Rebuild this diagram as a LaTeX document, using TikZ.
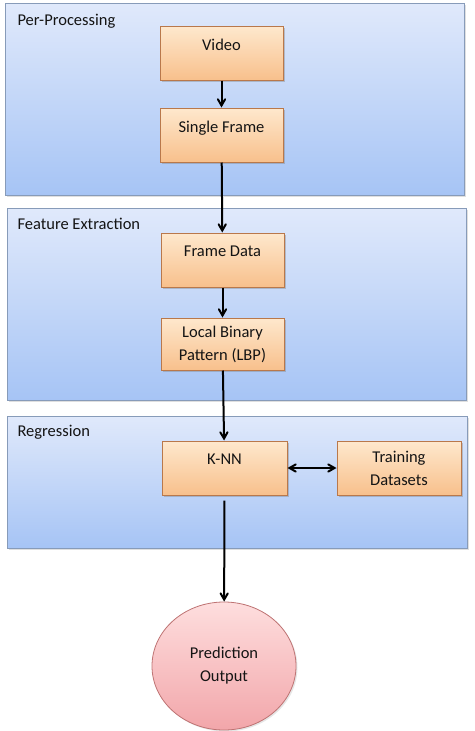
\documentclass[tikz,border=0pt]{standalone}
\usepackage{fontspec}
\setmainfont{Carlito}
\usetikzlibrary{arrows,shadows,shapes.geometric}
\definecolor{panelTop}{RGB}{224,233,251}
\definecolor{panelBot}{RGB}{166,196,245}
\definecolor{panelLine}{RGB}{135,155,185}
\definecolor{boxTop}{RGB}{254,232,205}
\definecolor{boxBot}{RGB}{248,192,140}
\definecolor{boxLine}{RGB}{185,120,75}
\definecolor{outTop}{RGB}{254,222,222}
\definecolor{outBot}{RGB}{242,166,170}
\definecolor{outLine}{RGB}{190,115,115}

\begin{document}
\begin{tikzpicture}[x=1pt,y=-1pt,
  every node/.style={font=\fontsize{16.5}{23}\selectfont,text=black!92},
  panel/.style={draw=panelLine,line width=0.8pt,top color=panelTop,bottom color=panelBot,
    drop shadow={opacity=0.25,shadow xshift=1.5pt,shadow yshift=-1.5pt}},
  stage/.style={draw=boxLine,line width=1pt,top color=boxTop,bottom color=boxBot,
    minimum width=123pt,minimum height=54pt,align=center,inner sep=1pt,
    drop shadow={opacity=0.4,shadow xshift=1.5pt,shadow yshift=-1.5pt}},
  oneline/.style={text depth=17pt},
  result/.style={ellipse,draw=outLine,line width=0.8pt,top color=outTop,bottom color=outBot,
    minimum width=144pt,minimum height=128pt,align=center,
    drop shadow={opacity=0.2,shadow xshift=1.5pt,shadow yshift=-1.5pt}},
  flow/.style={-angle 60,line width=2pt}]

\useasboundingbox (0,0) rectangle (474,731);

% panels
\draw[panel] (5,3) rectangle (464,195);
\draw[panel] (7,208) rectangle (466,400);
\draw[panel] (7,416) rectangle (467,548);
\node[anchor=west] (prep) at (14,21) {Per-Processing};
\node[anchor=west] (feat) at (14,224) {Feature Extraction};
\node[anchor=west] (regr) at (14,432) {Regression};

% stages
\node[stage,oneline] (video) at (221.5,53) {Video};
\node[stage,oneline] (single) at (221.5,135) {Single Frame};
\node[stage,oneline] (fdata) at (222.5,260) {Frame Data};
\node[stage,minimum height=52pt] (lbp) at (222.5,344) {Local Binary\\Pattern (LBP)};
\node[stage,oneline,minimum width=125pt] (knn) at (224.5,468) {K-NN};
\node[stage,minimum width=124pt] (train) at (399,468) {Training\\Datasets};
\node[result] (pred) at (224,666) {Prediction\\Output};

% connectors
\draw[flow] (video) -- (single);
\draw[flow] (single) -- (fdata);
\draw[flow] (fdata) -- (lbp);
\draw[flow] (lbp) -- (knn);
\draw[angle 60-angle 60,line width=2pt] (knn) -- (train);
\draw[flow,shorten <=5pt] (knn) -- (pred);
\end{tikzpicture}
\end{document}
